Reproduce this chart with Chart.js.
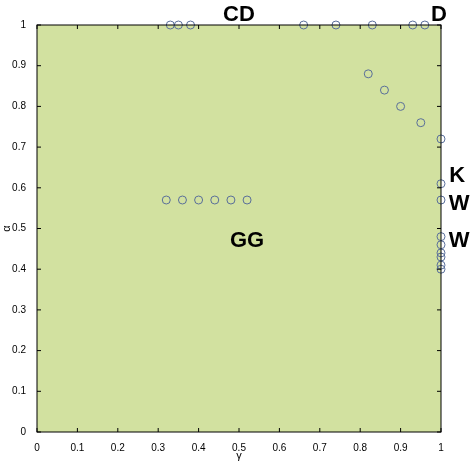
<!DOCTYPE html><html><head><script src="https://cdn.jsdelivr.net/npm/chart.js@4"></script>
<style>body{margin:0;background:#fff}#w{width:474px;height:463px}</style></head><body><div id="w"><canvas id="c"></canvas></div><script>
const gammaVals=[0.33,0.35,0.38,0.66,0.74,0.83,0.93,0.96,0.82,0.86,0.90,0.95,1,1,1,1,1,1,1,1,1,0.32,0.36,0.40,0.44,0.48,0.52];
const alphaVals=[1,1,1,1,1,1,1,1,0.88,0.84,0.80,0.76,0.72,0.61,0.57,0.48,0.46,0.44,0.43,0.41,0.40,0.57,0.57,0.57,0.57,0.57,0.57];
const labelText=['CD','D','K','W','W','GG'];
const labelX=[0.5,0.995,1.04,1.045,1.045,0.52];
const labelY=[1.025,1.025,0.63,0.56,0.47,0.47];
const ticks=[0,0.1,0.2,0.3,0.4,0.5,0.6,0.7,0.8,0.9,1];
const bg={id:'bg',beforeDraw(c){const a=c.chartArea,x=c.ctx;x.save();x.fillStyle='#d2e1a0';x.fillRect(a.left,a.top,a.right-a.left,a.bottom-a.top);x.restore();},
afterDraw(c){const a=c.chartArea,x=c.ctx,sx=c.scales.x,sy=c.scales.y;x.save();x.strokeStyle='#000';x.lineWidth=1;x.strokeRect(a.left,a.top,a.right-a.left,a.bottom-a.top);
x.beginPath();ticks.forEach(v=>{const px=sx.getPixelForValue(v),py=sy.getPixelForValue(v);x.moveTo(px,a.bottom);x.lineTo(px,a.bottom-4);x.moveTo(px,a.top);x.lineTo(px,a.top+4);x.moveTo(a.left,py);x.lineTo(a.left+4,py);x.moveTo(a.right,py);x.lineTo(a.right-4,py);});x.stroke();
x.fillStyle='#000';x.font='bold 22px Arial, "Liberation Sans"';x.textAlign='center';x.textBaseline='middle';labelText.forEach((t,i)=>x.fillText(t,sx.getPixelForValue(labelX[i]),sy.getPixelForValue(labelY[i])));x.restore();}};
new Chart(document.getElementById('c'),{type:'scatter',data:{datasets:[{data:gammaVals.map((g,i)=>({x:g,y:alphaVals[i]})),pointRadius:4,pointBackgroundColor:'rgba(0,0,0,0)',pointBorderColor:'#5a6f9a',pointBorderWidth:1,clip:false}]},
options:{responsive:true,maintainAspectRatio:false,animation:false,layout:{padding:{top:25,right:33}},plugins:{legend:{display:false},tooltip:{enabled:false}},
scales:{x:{type:'linear',min:0,max:1,afterBuildTicks:s=>{s.ticks=ticks.map(v=>({value:v}))},afterFit:s=>{s.height=31},grid:{display:false},border:{display:false},ticks:{color:'#000',font:{size:10,family:'Arial'},padding:2,callback:v=>String(v)},title:{display:true,text:'γ',color:'#000',font:{size:11},padding:0}},
y:{type:'linear',min:0,max:1,afterBuildTicks:s=>{s.ticks=ticks.map(v=>({value:v}))},afterFit:s=>{s.width=37},grid:{display:false},border:{display:false},ticks:{color:'#000',font:{size:10,family:'Arial'},padding:3,callback:v=>String(v)},title:{display:true,text:'α',color:'#000',font:{size:11},padding:0}}}},plugins:[bg]});
</script></body></html>
